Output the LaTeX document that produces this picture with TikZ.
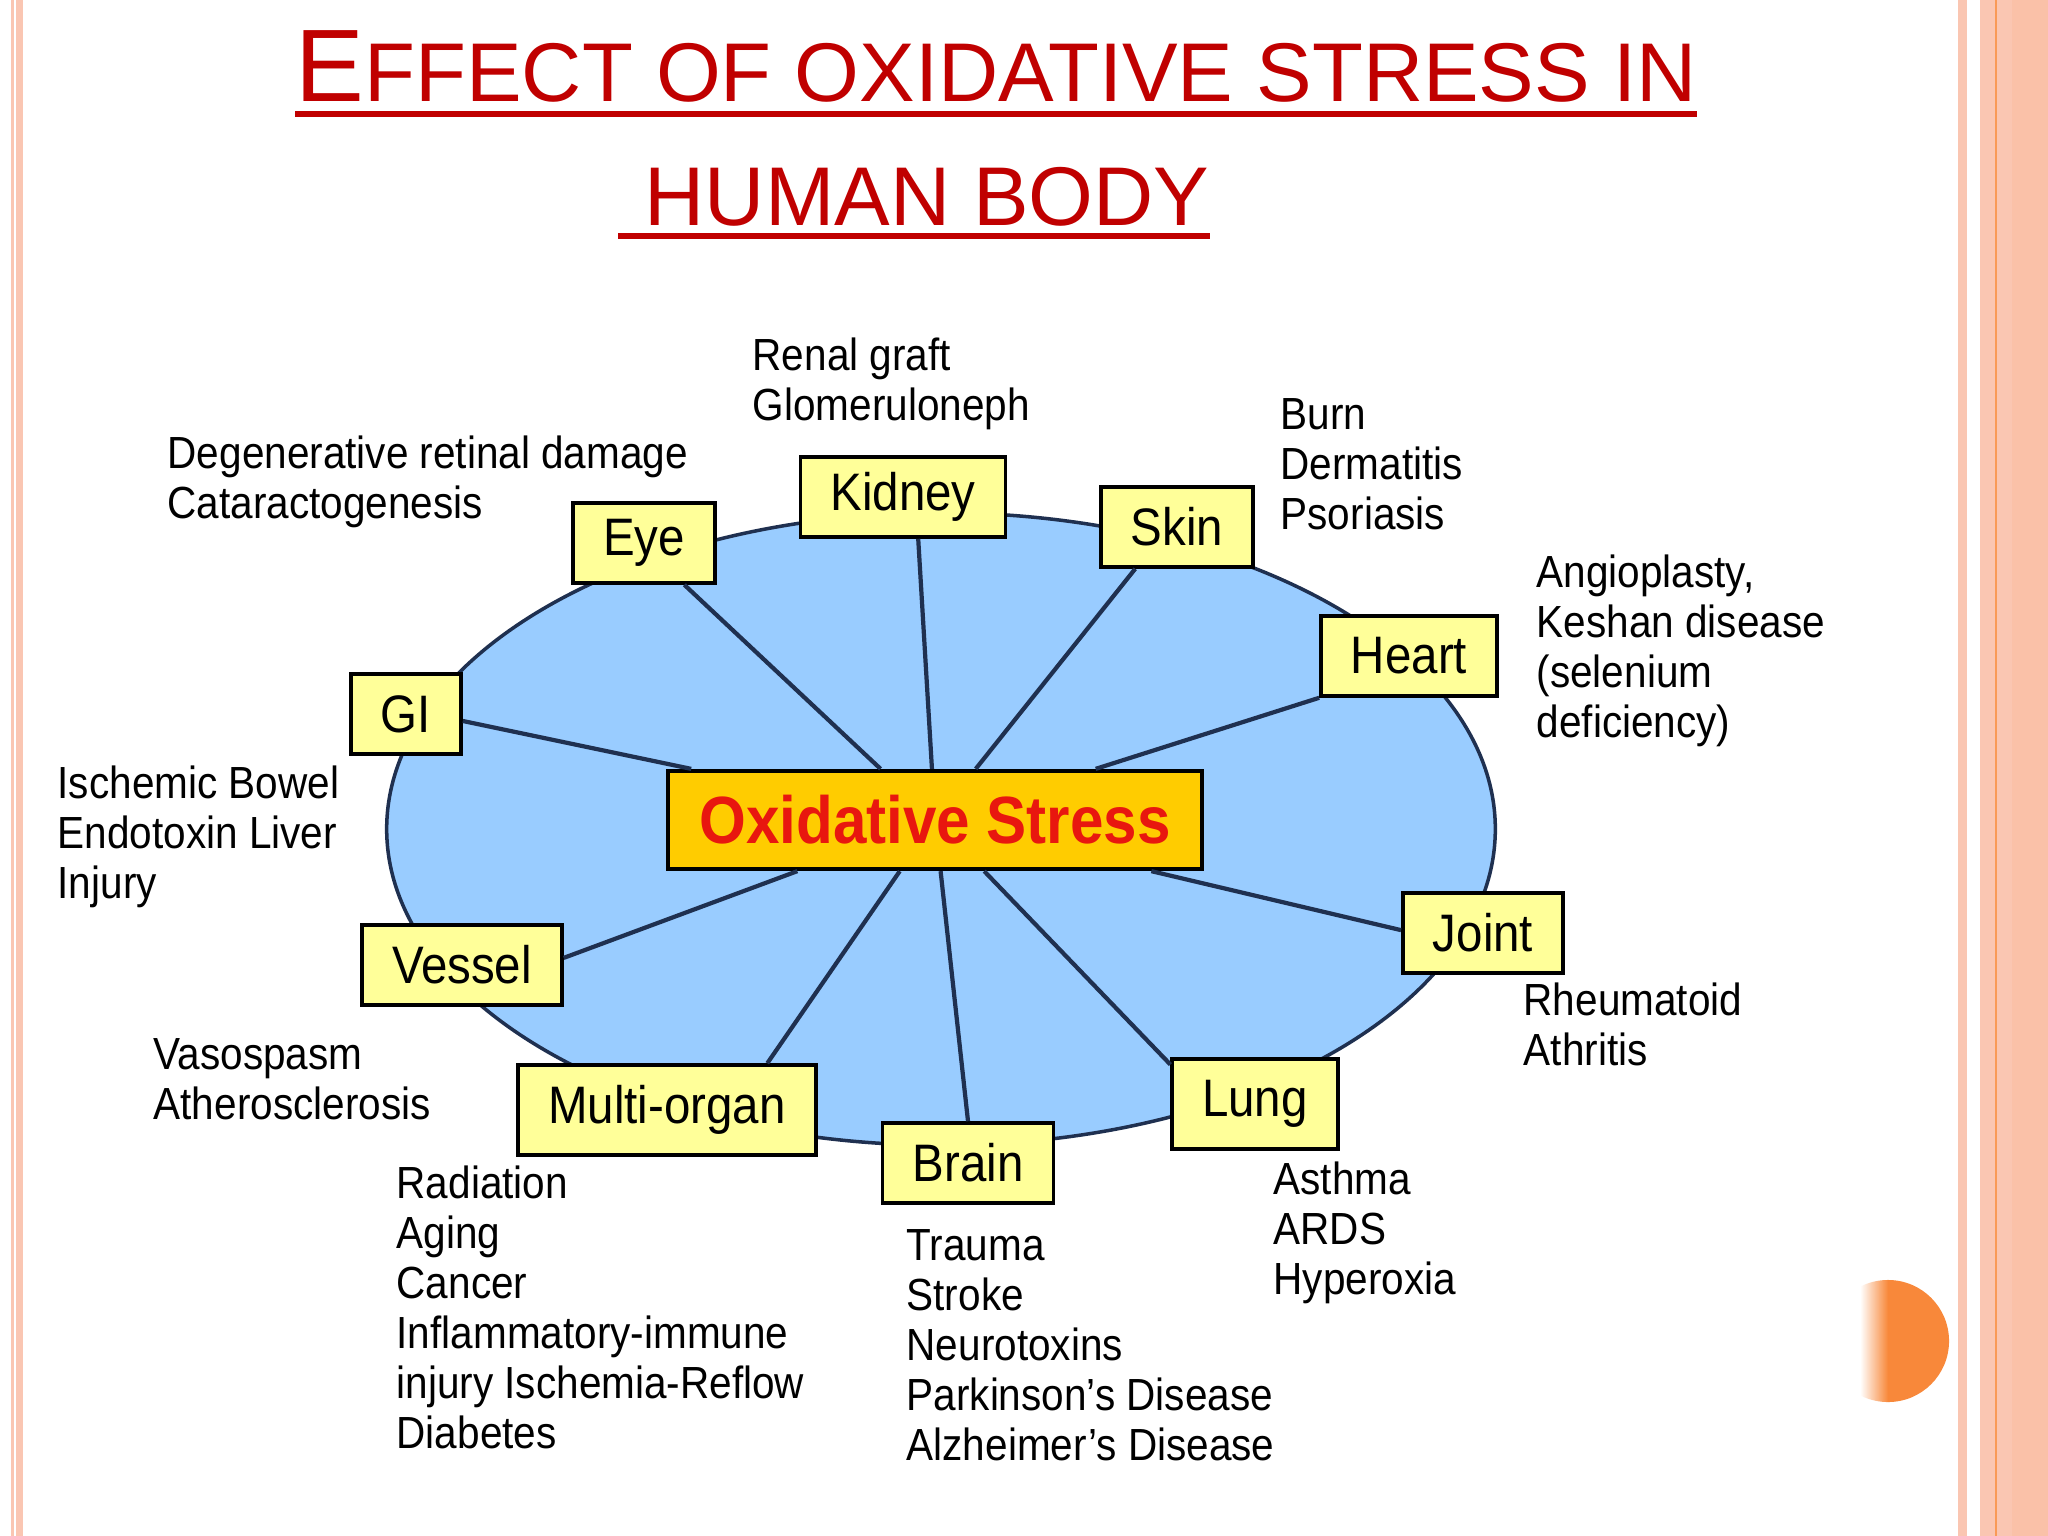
\documentclass[tikz,border=0pt]{standalone}
\usepackage{fontspec}
\usetikzlibrary{calc}
\newfontfamily\diagfont{Liberation Sans}[FakeStretch=0.9]
\newfontfamily\titlefont{Liberation Sans}
\definecolor{titlered}{HTML}{C00000}
\definecolor{sheetpeach}{HTML}{FAC6B2}
\definecolor{sheetorange}{HTML}{F8883A}
\definecolor{bodyblue}{HTML}{99CCFF}
\definecolor{spokenavy}{HTML}{1F3050}
\definecolor{organyellow}{HTML}{FFFF99}
\definecolor{stressgold}{HTML}{FFCC00}
\definecolor{stressred}{HTML}{E8170F}
\begin{document}
\begin{tikzpicture}[x=0.01cm, y=-0.01cm,
  organ/.style={draw=black, line width=1pt, fill=organyellow, minimum height=0.8cm,
    inner xsep=0.3cm, font=\diagfont\fontsize{15}{18}\selectfont},
  stress/.style={draw=black, line width=1.2pt, fill=stressgold, text=stressred,
    minimum width=5.34cm, minimum height=0.98cm, font=\diagfont\bfseries\fontsize{19}{22}\selectfont},
  note/.style={anchor=base west, inner sep=0pt, align=left, font=\diagfont\fontsize{12.8}{14.2}\selectfont},
  spoke/.style={draw=spokenavy, line width=1.2pt},
  heading/.style={anchor=base west, inner sep=0pt, text=titlered, font=\titlefont\fontsize{23.7}{28}\selectfont},
  uline/.style={draw=titlered, line width=1.7pt}]
  \useasboundingbox (0,0) rectangle (2048,1536);
  \fill[white] (0,0) rectangle (2048,1536);
  \fill[sheetpeach] (11,0) rectangle (14,1536);
  \fill[sheetpeach] (16,0) rectangle (23,1536);
  \fill[sheetpeach] (1958,0) rectangle (1967,1536);
  \fill[sheetpeach] (1980,0) rectangle (2048,1536);
  \fill[sheetpeach!92!sheetorange] (2012,0) rectangle (2048,1536);
  \fill[sheetorange!85] (1995,0) rectangle (1997,1536);
  \begin{scope}
    \clip (1888,1341) circle [radius=0.61cm];
    \fill[sheetorange] (1888,1270) rectangle (1960,1420);
    \shade[left color=white, right color=sheetorange] (1860,1270) rectangle (1888,1420);
  \end{scope}

  \node[heading] (t1) at (295,101) {{\fontsize{29.3}{32}\selectfont E}FFECT OF OXIDATIVE STRESS IN};
  \node[heading] (t2) at (644,225) {HUMAN BODY};
  \draw[uline] ($(t1.base west)+(0,13)$) -- ($(t1.base east)+(0,13)$);
  \draw[uline] ($(t2.base west)+(-26,11)$) -- ($(t2.base east)+(0,11)$);

  \draw[spokenavy, line width=1pt, fill=bodyblue] (941,829) ellipse [x radius=5.54cm, y radius=3.16cm];

  \node[stress] (os) at (935,820) {Oxidative Stress};
  \node[organ] (eye) at (644,543) {Eye};
  \node[organ] (kidney) at (903,497) {Kidney};
  \node[organ] (skin) at (1177,527) {Skin};
  \node[organ] (heart) at (1409,656) {Heart};
  \node[organ] (gi) at (406,714) {GI};
  \node[organ] (joint) at (1483,933) {Joint};
  \node[organ] (vessel) at (462,965) {Vessel};
  \node[organ, minimum height=0.9cm] (multi) at (667,1110) {Multi-organ};
  \node[organ] (brain) at (968,1163) {Brain};
  \node[organ, minimum height=0.9cm] (lung) at (1255,1104) {Lung};

  \draw[spoke] (os) -- (eye.-46);
  \draw[spoke] (os) -- (kidney.-70);
  \draw[spoke] (os) -- (skin.-135);
  \draw[spoke] (os) -- (heart.south west);
  \draw[spoke] (os) -- (gi.-7);
  \draw[spoke] (os) -- (joint.178);
  \draw[spoke] (os) -- (lung.155);
  \draw[spoke] (os) -- (brain.north);
  \draw[spoke] (os) -- (multi.25);
  \draw[spoke] (os) -- (vessel.4);

  \node[note] (kidneynote) at (752,420) {Renal graft\\Glomeruloneph};
  \node[note] (eyenote) at (167,518) {Degenerative retinal damage\\Cataractogenesis};
  \node[note] (skinnote) at (1280,529) {Burn\\Dermatitis\\Psoriasis};
  \node[note] (heartnote) at (1536,737) {Angioplasty,\\Keshan disease\\(selenium\\deficiency)};
  \node[note] (ginote) at (57,898) {Ischemic Bowel\\Endotoxin Liver\\Injury};
  \node[note] (jointnote) at (1523,1065) {Rheumatoid\\Athritis};
  \node[note] (vesselnote) at (153,1119) {Vasospasm\\Atherosclerosis};
  \node[note] (multinote) at (396,1448) {Radiation\\Aging\\Cancer\\Inflammatory-immune\\injury Ischemia-Reflow\\Diabetes};
  \node[note] (lungnote) at (1273,1294) {Asthma\\ARDS\\Hyperoxia};
  \node[note] (brainnote) at (906,1460) {Trauma\\Stroke\\Neurotoxins\\Parkinson’s Disease\\Alzheimer’s Disease};
\end{tikzpicture}
\end{document}
